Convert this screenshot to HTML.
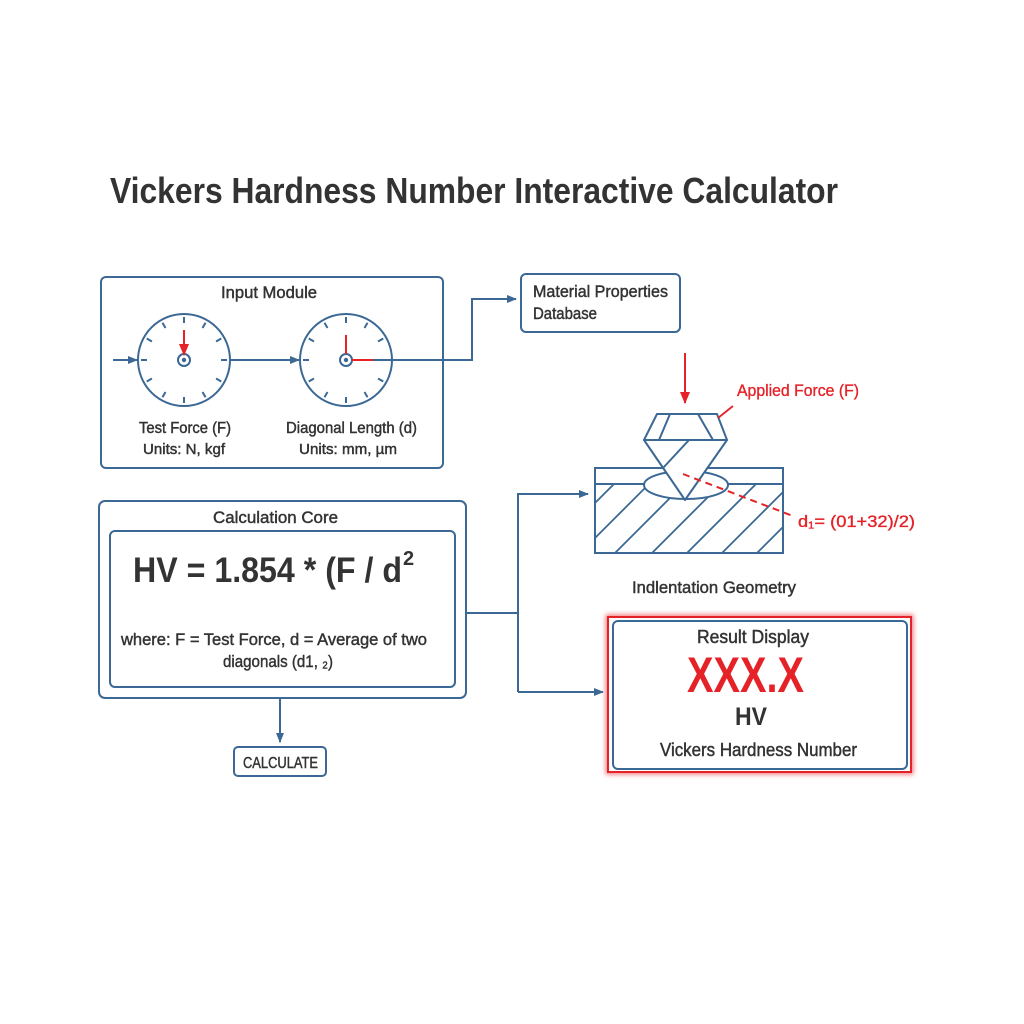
<!DOCTYPE html>
<html><head><meta charset="utf-8"><style>
html,body{margin:0;padding:0;background:#fff;}
svg{display:block;}
text{font-family:"Liberation Sans",sans-serif;fill:#333;}
.m{stroke:#333;stroke-width:0.45;}
.r{fill:#e52228;stroke:#e52228;stroke-width:0.35;}
</style></head><body>
<svg width="1024" height="1024" viewBox="0 0 1024 1024" xmlns="http://www.w3.org/2000/svg">
<defs>
<marker id="ab" markerWidth="10" markerHeight="10" refX="9" refY="5" orient="auto" markerUnits="userSpaceOnUse">
<path d="M0,1 L10,5 L0,9 Z" fill="#3b6894"/></marker>
<marker id="ar" markerWidth="12" markerHeight="12" refX="11" refY="6" orient="auto" markerUnits="userSpaceOnUse">
<path d="M0,1 L12,6 L0,11 Z" fill="#e52228"/></marker>
<clipPath id="hc"><rect x="595" y="484" width="188" height="69"/></clipPath>
<filter id="glow" x="-10%" y="-10%" width="120%" height="120%"><feGaussianBlur stdDeviation="2.5"/></filter>
</defs>
<rect width="1024" height="1024" fill="#fff"/>

<!-- Title -->
<text x="110" y="203" font-size="36" font-weight="bold" textLength="728" lengthAdjust="spacingAndGlyphs">Vickers Hardness Number Interactive Calculator</text>

<g fill="none" stroke="#3b6894" stroke-width="2">
<rect x="101" y="277" width="342" height="191" rx="5"/>
<rect x="521" y="274" width="159" height="58" rx="5"/>
<rect x="99" y="501" width="367" height="197" rx="6"/>
<rect x="110" y="531" width="345" height="156" rx="5"/>
<rect x="234" y="747" width="92" height="29" rx="4"/>

<circle cx="184" cy="360" r="46"/>
<circle cx="346" cy="360" r="46"/>
<circle cx="184" cy="360" r="6"/>
<circle cx="346" cy="360" r="6"/>

<line x1="113" y1="360" x2="137" y2="360" marker-end="url(#ab)"/>
<line x1="230" y1="360" x2="299" y2="360" marker-end="url(#ab)"/>
<polyline points="373,360 472,360 472,299 516,299" marker-end="url(#ab)"/>
<line x1="280" y1="698" x2="280" y2="742" marker-end="url(#ab)"/>
<polyline points="466,613 518,613"/>
<polyline points="518,692 518,494 588,494" marker-end="url(#ab)"/>
<line x1="518" y1="692" x2="603" y2="692" marker-end="url(#ab)"/>
</g>
<circle cx="184" cy="360" r="2.2" fill="#3b6894"/>
<circle cx="346" cy="360" r="2.2" fill="#3b6894"/>

<g stroke="#3b6894" stroke-width="2">
<g transform="translate(184,360)">
<line x1="0" y1="-43" x2="0" y2="-37"/><line x1="0" y1="-43" x2="0" y2="-37" transform="rotate(30)"/><line x1="0" y1="-43" x2="0" y2="-37" transform="rotate(60)"/><line x1="0" y1="-43" x2="0" y2="-37" transform="rotate(90)"/><line x1="0" y1="-43" x2="0" y2="-37" transform="rotate(120)"/><line x1="0" y1="-43" x2="0" y2="-37" transform="rotate(150)"/><line x1="0" y1="-43" x2="0" y2="-37" transform="rotate(180)"/><line x1="0" y1="-43" x2="0" y2="-37" transform="rotate(210)"/><line x1="0" y1="-43" x2="0" y2="-37" transform="rotate(240)"/><line x1="0" y1="-43" x2="0" y2="-37" transform="rotate(270)"/><line x1="0" y1="-43" x2="0" y2="-37" transform="rotate(300)"/><line x1="0" y1="-43" x2="0" y2="-37" transform="rotate(330)"/>
</g>
<g transform="translate(346,360)">
<line x1="0" y1="-43" x2="0" y2="-37"/><line x1="0" y1="-43" x2="0" y2="-37" transform="rotate(30)"/><line x1="0" y1="-43" x2="0" y2="-37" transform="rotate(60)"/><line x1="0" y1="-43" x2="0" y2="-37" transform="rotate(90)"/><line x1="0" y1="-43" x2="0" y2="-37" transform="rotate(120)"/><line x1="0" y1="-43" x2="0" y2="-37" transform="rotate(150)"/><line x1="0" y1="-43" x2="0" y2="-37" transform="rotate(180)"/><line x1="0" y1="-43" x2="0" y2="-37" transform="rotate(210)"/><line x1="0" y1="-43" x2="0" y2="-37" transform="rotate(240)"/><line x1="0" y1="-43" x2="0" y2="-37" transform="rotate(270)"/><line x1="0" y1="-43" x2="0" y2="-37" transform="rotate(300)"/><line x1="0" y1="-43" x2="0" y2="-37" transform="rotate(330)"/>
</g>
</g>
<line x1="184" y1="330" x2="184" y2="355" stroke="#e52228" stroke-width="2" marker-end="url(#ar)"/>
<polyline points="346,335 346,354" fill="none" stroke="#e52228" stroke-width="2"/>
<line x1="352" y1="360" x2="373" y2="360" stroke="#e52228" stroke-width="2"/>

<!-- Indentation geometry -->
<g clip-path="url(#hc)" stroke="#3b6894" stroke-width="1.8">
<line x1="545" y1="553" x2="645" y2="453"/>
<line x1="580" y1="553" x2="680" y2="453"/>
<line x1="615" y1="553" x2="715" y2="453"/>
<line x1="652" y1="553" x2="752" y2="453"/>
<line x1="687" y1="553" x2="787" y2="453"/>
<line x1="722" y1="553" x2="822" y2="453"/>
<line x1="757" y1="553" x2="857" y2="453"/>
</g>
<rect x="595" y="468" width="188" height="85" fill="none" stroke="#3b6894" stroke-width="2"/>
<line x1="595" y1="484" x2="783" y2="484" stroke="#3b6894" stroke-width="2"/>
<ellipse cx="686" cy="485" rx="42" ry="14" fill="#fff" stroke="#3b6894" stroke-width="2"/>
<g fill="#fff" stroke="#3b6894" stroke-width="2" stroke-linejoin="round">
<polygon points="644,440 727,440 685,500"/>
<polygon points="657,414 717,414 727,440 644,440"/>
<line x1="670" y1="414" x2="659" y2="440"/>
<line x1="698" y1="414" x2="713" y2="440"/>
<line x1="689" y1="440" x2="663" y2="468"/>
</g>
<line x1="685" y1="353" x2="685" y2="403" stroke="#e52228" stroke-width="2" marker-end="url(#ar)"/>
<line x1="718" y1="418" x2="733" y2="406" stroke="#e52228" stroke-width="1.8"/>
<line x1="683" y1="474" x2="793" y2="516" stroke="#e52228" stroke-width="2" stroke-dasharray="7,5"/>

<!-- Result display -->
<rect x="608" y="617" width="303" height="155" fill="none" stroke="#f07a7e" stroke-width="5" filter="url(#glow)"/>
<rect x="608" y="617" width="303" height="155" fill="#fff" stroke="#e52228" stroke-width="2"/>
<rect x="613" y="621" width="294" height="148" rx="5" fill="#fff" stroke="#3b6894" stroke-width="2"/>

<!-- Texts -->
<text class="m" x="221" y="298" font-size="17" textLength="96" lengthAdjust="spacingAndGlyphs">Input Module</text>
<text class="m" x="139" y="433" font-size="16" textLength="92" lengthAdjust="spacingAndGlyphs">Test Force (F)</text>
<text class="m" x="143" y="454" font-size="15" textLength="82" lengthAdjust="spacingAndGlyphs">Units: N, kgf</text>
<text class="m" x="286" y="433" font-size="16" textLength="131" lengthAdjust="spacingAndGlyphs">Diagonal Length (d)</text>
<text class="m" x="299" y="454" font-size="15" textLength="98" lengthAdjust="spacingAndGlyphs">Units: mm, µm</text>
<text class="m" x="533" y="297" font-size="17" textLength="135" lengthAdjust="spacingAndGlyphs">Material Properties</text>
<text class="m" x="533" y="319" font-size="17" textLength="64" lengthAdjust="spacingAndGlyphs">Database</text>
<text class="m" x="213" y="523" font-size="17" textLength="125" lengthAdjust="spacingAndGlyphs">Calculation Core</text>
<text x="133" y="582" font-size="35" font-weight="bold" textLength="269" lengthAdjust="spacingAndGlyphs">HV = 1.854 * (F / d</text>
<text x="403" y="565" font-size="20" font-weight="bold">2</text>
<text class="m" x="121" y="645" font-size="17" textLength="306" lengthAdjust="spacingAndGlyphs">where: F = Test Force, d = Average of two</text>
<text class="m" x="223" y="667" font-size="17" textLength="110" lengthAdjust="spacingAndGlyphs">diagonals (d1, ₂)</text>
<text class="m" x="243" y="768" font-size="16" textLength="75" lengthAdjust="spacingAndGlyphs">CALCULATE</text>
<text class="r" x="737" y="396" font-size="17" textLength="122" lengthAdjust="spacingAndGlyphs">Applied Force (F)</text>
<text class="r" x="798" y="527" font-size="17" textLength="117" lengthAdjust="spacingAndGlyphs">d₁= (01+32)/2)</text>
<text class="m" x="632" y="593" font-size="17" textLength="164" lengthAdjust="spacingAndGlyphs">Indlentation Geometry</text>
<text class="m" x="697" y="643" font-size="18" textLength="112" lengthAdjust="spacingAndGlyphs">Result Display</text>
<text x="687" y="692" font-size="50" font-weight="bold" style="fill:#e52228" textLength="117" lengthAdjust="spacingAndGlyphs">XXX.X</text>
<text x="735" y="725" font-size="25" font-weight="bold" textLength="32" lengthAdjust="spacingAndGlyphs">HV</text>
<text class="m" x="660" y="756" font-size="18" textLength="197" lengthAdjust="spacingAndGlyphs">Vickers Hardness Number</text>
</svg>
</body></html>
